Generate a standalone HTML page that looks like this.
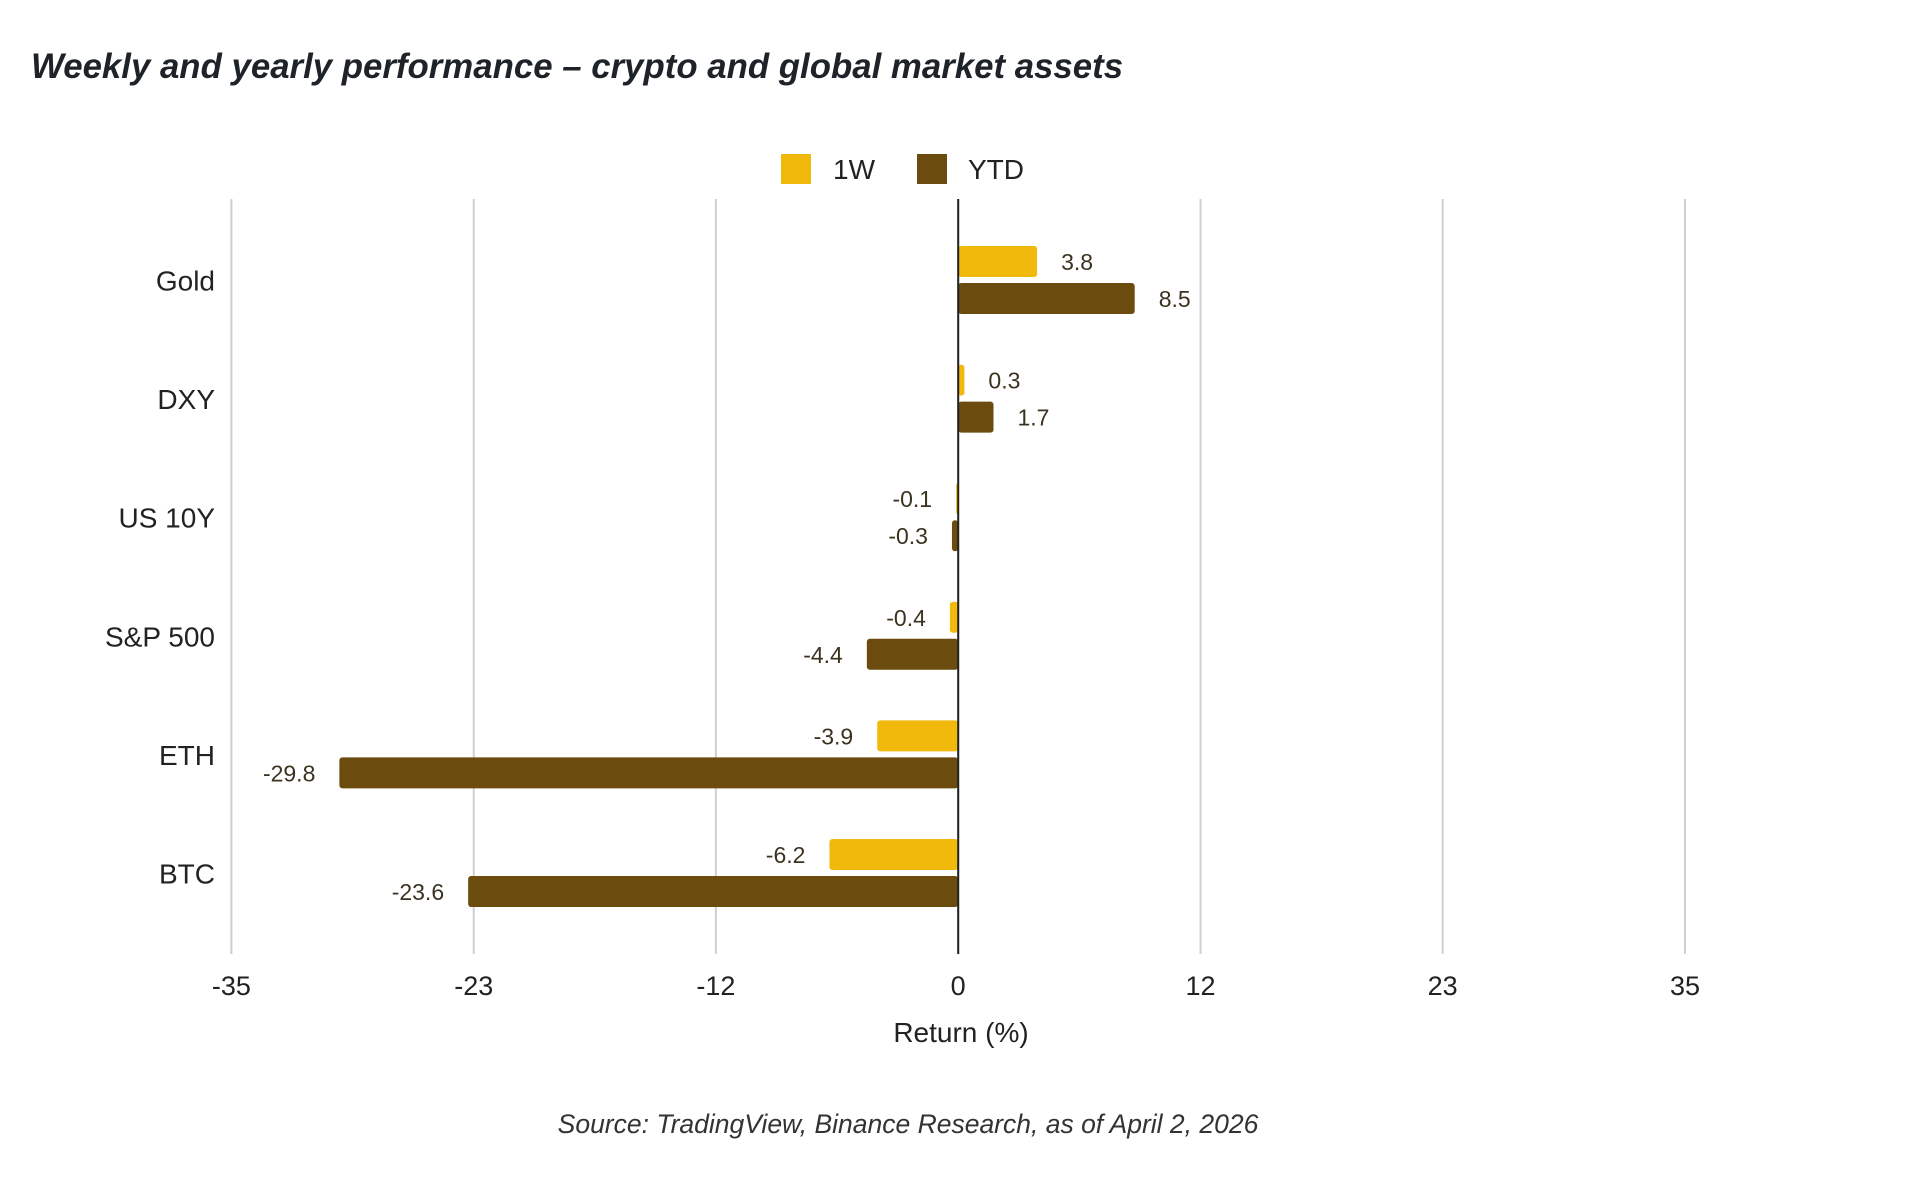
<!DOCTYPE html>
<html><head><meta charset="utf-8"><style>
html,body{margin:0;padding:0;background:#fff;}
svg{display:block;font-family:"Liberation Sans",sans-serif;}
</style></head><body>
<svg id="chart" width="1920" height="1182" viewBox="0 0 1920 1182">
<text x="31" y="78" font-size="34.8" font-weight="bold" font-style="italic" fill="#1e2329">Weekly and yearly performance – crypto and global market assets</text>
<g>
<rect x="781" y="154" width="30" height="30" fill="#F0B90B"/>
<text x="833" y="179" font-size="28" fill="#222">1W</text>
<rect x="917" y="154" width="30" height="30" fill="#6B4C0E"/>
<text x="968" y="179" font-size="28" fill="#222">YTD</text>
</g>
<g id="grid"></g><g id="bars"></g><g id="labels"></g>
<text x="961" y="1042" font-size="28" text-anchor="middle" fill="#222">Return (%)</text>
<text x="908" y="1133" font-size="26.5" font-style="italic" text-anchor="middle" fill="#333">Source: TradingView, Binance Research, as of April 2, 2026</text>
</svg>
<script>
const categories = ["Gold","DXY","US 10Y","S&P 500","ETH","BTC"];
const weekly = [3.8,0.3,-0.1,-0.4,-3.9,-6.2];
const ytd = [8.5,1.7,-0.3,-4.4,-29.8,-23.6];
const tickValues = [-35,-23.33,-11.67,0,11.67,23.33,35];
const tickLabels = ["-35","-23","-12","0","12","23","35"];
const NS="http://www.w3.org/2000/svg";
const x0=231.4,x1=1685,plotTop=199,plotBot=954;
function xs(v){return x0+(v+35)/70*(x1-x0);}
function yc(i){return 280.5+i*118.6;}
function mk(tag,attrs,parent){const e=document.createElementNS(NS,tag);for(const k in attrs)e.setAttribute(k,attrs[k]);parent.appendChild(e);return e;}
const grid=document.getElementById('grid'),bars=document.getElementById('bars'),labels=document.getElementById('labels');
tickValues.forEach((v,i)=>{
  const l=mk('line',{x1:xs(v),x2:xs(v),y1:plotTop,y2:plotBot,stroke:'#cfcfcf','stroke-width':2},grid);
  
  
  const t=mk('text',{x:xs(v),y:995,'font-size':27,'text-anchor':'middle',fill:'#222'},grid);
  t.textContent=tickLabels[i];
  
  
});
categories.forEach((c,i)=>{
  const t=mk('text',{x:215,y:yc(i)+10,'font-size':28,'text-anchor':'end',fill:'#222'},labels);
  t.textContent=c;
  
  
  [[weekly[i],'#F0B90B',-34.5,'bar-1w'],[ytd[i],'#6B4C0E',2.5,'bar-ytd']].forEach(([v,col,off,nm])=>{
    const a=Math.min(xs(0),xs(v)),w=Math.max(Math.abs(xs(v)-xs(0)),2);
    const r=mk('rect',{x:a,y:yc(i)+off,width:w,height:31,rx:3,fill:col},bars);
    
    
    const lx=v>=0?xs(v)+24:xs(v)-24;
    const lt=mk('text',{x:lx,y:yc(i)+off+24,'font-size':23,'text-anchor':v>=0?'start':'end',fill:'#3b3320'},labels);
    lt.textContent=v.toFixed(1);
    
    
  });
});
const z=mk('line',{x1:xs(0),x2:xs(0),y1:plotTop,y2:plotBot,stroke:'#222','stroke-width':2},bars);


</script>
</body></html>
